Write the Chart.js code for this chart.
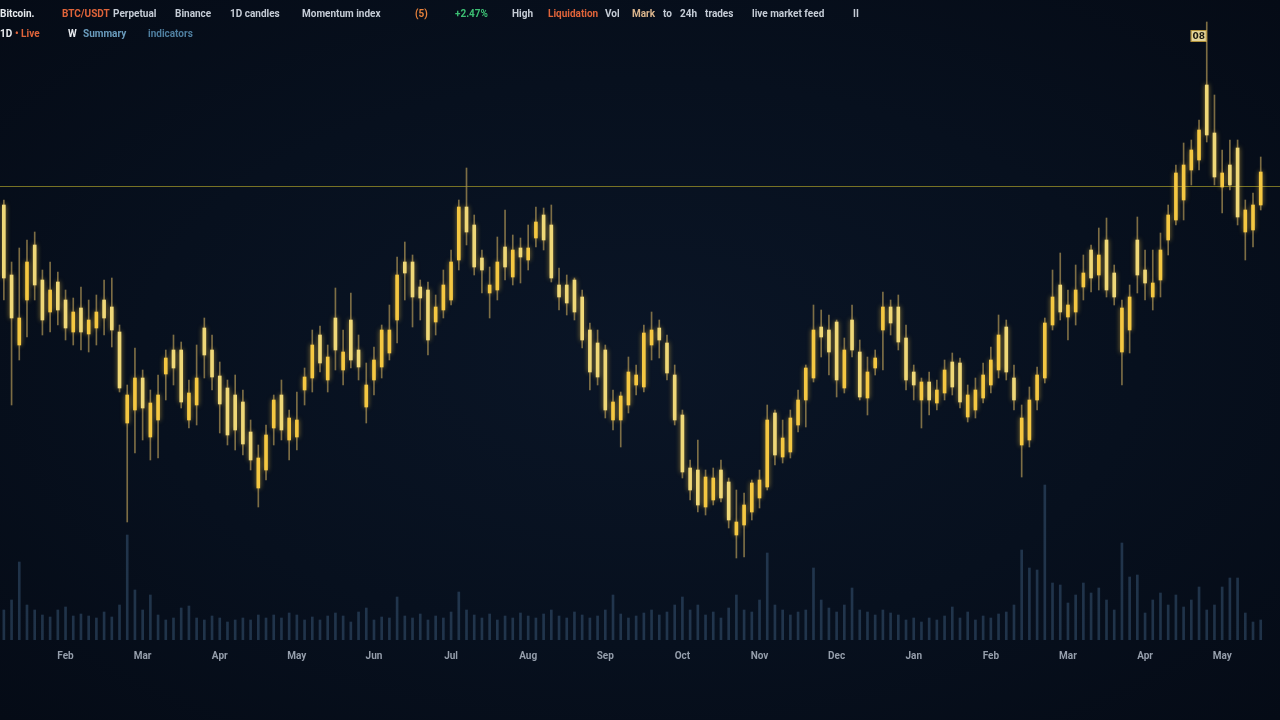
<!DOCTYPE html>
<html>
<head>
<meta charset="utf-8">
<script src="https://cdn.jsdelivr.net/npm/chart.js@4.4.1/dist/chart.umd.min.js"></script>
<style>
html,body{margin:0;padding:0;width:1280px;height:720px;overflow:hidden;background:#060d19;}
#wrap{position:relative;width:1280px;height:720px;background:radial-gradient(ellipse at 50% 50%, #0a1526 0%, #07101e 55%, #050b16 100%);}
#c{position:absolute;left:0;top:0;}
.h{position:absolute;font-family:Roboto,"DejaVu Sans",sans-serif;font-size:10px;font-weight:700;white-space:nowrap;line-height:12px;}
</style>
</head>
<body>
<div id="wrap">
<canvas id="c" width="1280" height="720"></canvas>
<div class="h" style="left:0;top:8px;color:#e8ebef">Bitcoin.</div>
<div class="h" style="left:62px;top:8px;color:#e0643a">BTC/USDT</div>
<div class="h" style="left:113px;top:8px;color:#c5ccd6">Perpetual</div>
<div class="h" style="left:175px;top:8px;color:#c5ccd6">Binance</div>
<div class="h" style="left:230px;top:8px;color:#c5ccd6">1D candles</div>
<div class="h" style="left:302px;top:8px;color:#c5ccd6">Momentum index</div>
<div class="h" style="left:415px;top:8px;color:#e8823c">(5)</div>
<div class="h" style="left:455px;top:8px;color:#3cbf73">+2.47%</div>
<div class="h" style="left:512px;top:8px;color:#c5ccd6">High</div>
<div class="h" style="left:548px;top:8px;color:#e0643a">Liquidation</div>
<div class="h" style="left:605px;top:8px;color:#c5ccd6">Vol</div>
<div class="h" style="left:632px;top:8px;color:#d9b48c">Mark</div>
<div class="h" style="left:663px;top:8px;color:#c5ccd6">to</div>
<div class="h" style="left:680px;top:8px;color:#c5ccd6">24h</div>
<div class="h" style="left:705px;top:8px;color:#c5ccd6">trades</div>
<div class="h" style="left:752px;top:8px;color:#c5ccd6">live market feed</div>
<div class="h" style="left:853px;top:8px;color:#c5ccd6">II</div>
<div class="h" style="left:0;top:28px;color:#e8ebef">1D</div>
<div class="h" style="left:15px;top:28px;color:#e0643a">• Live</div>
<div class="h" style="left:68px;top:28px;color:#e8ebef">W</div>
<div class="h" style="left:83px;top:28px;color:#6a9cbd">Summary</div>
<div class="h" style="left:148px;top:28px;color:#4f7fa0">indicators</div>
</div>
<script>
// ---- data (price units, daily candles) ----
const slotCount = 166;
const tickLabels = ["Feb","Mar","Apr","May","Jun","Jul","Aug","Sep","Oct","Nov","Dec","Jan","Feb","Mar","Apr","May"];
const firstTickIndex = 8;
const tickEvery = 10;
const resistanceLevel = 534;
const peakLabel = "08";

const opens = [
515,445,375,420,475,440,408,438,420,388,
412,386,392,420,413,388,297,310,342,283,
300,346,370,370,300,315,392,370,344,332,
325,318,288,232,250,292,325,280,283,330,
342,385,340,402,350,400,370,313,340,353,
367,400,458,458,433,430,398,410,420,460,
513,495,462,427,430,473,443,472,460,482,
505,495,435,435,440,423,390,377,370,300,
300,315,335,333,375,392,377,345,305,252,
250,213,220,250,238,185,195,208,222,233,
307,263,268,295,320,342,393,390,398,332,
400,368,322,352,390,413,413,382,348,320,
338,317,327,358,357,303,310,322,335,350,
393,342,275,280,320,342,395,435,403,408,
433,470,445,480,447,368,390,480,450,423,
440,480,500,520,550,560,635,587,533,555,
572,488,490,515];
const closes = [
442,402,402,458,435,400,430,410,392,408,
388,400,408,402,390,332,325,342,312,317,
325,362,352,318,327,342,365,343,316,285,
290,276,260,262,285,320,290,302,300,343,
375,357,363,370,368,360,353,335,360,390,
390,445,447,423,422,380,413,435,458,513,
488,453,450,435,458,453,470,463,472,498,
480,442,423,417,408,380,348,343,310,318,
324,348,345,387,390,380,347,300,248,230,
215,243,242,222,200,198,215,237,240,300,
265,282,302,320,352,390,383,368,340,370,
370,323,348,362,413,397,378,340,335,338,
320,330,350,333,318,325,330,345,360,385,
348,320,302,320,345,397,423,408,415,430,
447,442,465,430,423,412,423,445,437,437,
470,505,547,555,570,590,585,543,547,535,
503,510,515,548];
const highs = [
520,458,472,480,488,450,458,448,430,422,
433,420,425,440,442,395,335,372,350,330,
345,370,385,378,340,375,402,385,358,340,
345,330,300,275,295,325,340,310,328,352,
390,394,375,432,390,427,385,357,373,395,
415,463,478,465,440,438,425,450,470,520,
552,505,470,453,483,510,485,482,495,513,
512,515,452,445,442,430,397,390,375,330,
328,363,355,395,408,400,385,355,310,260,
280,250,252,260,242,230,227,240,250,315,
310,300,310,330,355,415,410,405,400,382,
415,380,363,370,428,420,425,395,355,342,
348,340,360,367,362,335,342,357,373,405,
400,355,315,333,353,402,450,467,430,455,
465,475,492,502,455,420,435,503,470,470,
487,515,555,577,580,600,698,625,570,580,
580,520,527,563];
const lows = [
420,315,360,383,420,385,388,395,380,375,
370,368,375,385,373,328,198,267,280,260,
262,320,335,312,292,295,342,330,287,275,
270,265,250,213,240,275,280,260,270,315,
328,348,328,350,335,352,340,297,325,342,
360,377,420,393,400,365,385,402,415,450,
475,445,427,402,420,440,435,437,450,473,
470,438,410,405,400,372,330,335,302,290,
273,307,325,328,360,362,340,295,242,220,
208,205,215,218,192,162,163,200,212,230,
255,257,262,288,293,338,363,345,323,327,
363,320,305,345,350,385,370,330,320,292,
305,310,320,325,312,298,302,317,327,342,
340,310,243,273,310,337,390,400,380,395,
420,428,430,423,415,335,367,427,420,410,
423,465,495,500,535,550,578,535,507,530,
495,460,473,510];
const volumes = [
30,40,78,35,30,25,23,30,33,24,
26,24,22,28,23,35,105,50,30,45,
25,20,22,32,34,22,20,24,22,18,
20,22,20,25,22,25,22,27,25,20,
23,20,24,27,24,18,28,32,20,23,
22,43,24,22,26,20,24,22,28,48,
30,25,22,26,20,24,22,27,24,22,
26,30,24,22,28,25,22,24,30,45,
26,22,24,27,30,25,28,35,43,30,
35,25,28,22,32,45,30,28,40,87,
35,30,25,28,30,72,40,32,28,35,
52,30,28,25,30,27,25,20,22,18,
22,20,24,33,22,28,20,24,22,26,
28,35,90,72,70,155,57,55,37,45,
57,47,52,40,30,97,63,65,27,40,
47,35,45,33,40,53,30,35,53,62,
62,27,18,20];

// ---- build chart structures ----
const categories = [];
for (let i = 0; i < slotCount; i++) categories.push('d' + (i + 1));
const wickData = lows.map((l, i) => [l, highs[i]]);
const bodyData = opens.map((o, i) => [o, closes[i]]);

const glowPlugin = {
  id: 'glow',
  beforeDatasetDraw(chart, args) {
    if (args.index === 0) {
      chart.ctx.save();
      chart.ctx.shadowColor = 'rgba(255,205,70,0.55)';
      chart.ctx.shadowBlur = 5;
    }
  },
  afterDatasetDraw(chart, args) {
    if (args.index === 0) chart.ctx.restore();
  }
};
const levelPlugin = {
  id: 'level',
  beforeDatasetsDraw(chart) {
    const ctx = chart.ctx, y = chart.scales.y.getPixelForValue(resistanceLevel);
    ctx.save();
    ctx.strokeStyle = 'rgba(125,120,38,0.95)';
    ctx.lineWidth = 1;
    ctx.beginPath();
    ctx.moveTo(0, Math.round(y) + 0.5);
    ctx.lineTo(chart.width, Math.round(y) + 0.5);
    ctx.stroke();
    ctx.restore();
  }
};
const peakPlugin = {
  id: 'peak',
  afterDatasetsDraw(chart) {
    let idx = 0;
    highs.forEach((h, i) => { if (h > highs[idx]) idx = i; });
    const ctx = chart.ctx;
    const x = chart.scales.x.getPixelForValue(idx) - 8;
    const y = chart.scales.y.getPixelForValue(highs[idx]) + 14;
    ctx.save();
    ctx.fillStyle = '#e3d49a';
    ctx.strokeStyle = '#b0913a';
    ctx.lineWidth = 1;
    ctx.fillRect(x - 8, y - 6, 16, 12);
    ctx.strokeRect(x - 7.5, y - 5.5, 15, 11);
    ctx.fillStyle = '#1b1a12';
    ctx.font = 'bold 9px "DejaVu Sans", sans-serif';
    ctx.textAlign = 'center';
    ctx.textBaseline = 'middle';
    ctx.fillText(peakLabel, x, y + 0.5);
    ctx.restore();
  }
};

new Chart(document.getElementById('c'), {
  type: 'bar',
  data: {
    labels: categories,
    datasets: [
      {
        label: 'Body',
        data: bodyData,
        yAxisID: 'y',
        grouped: false,
        order: 0,
        barThickness: 3,
        minBarLength: 1,
        backgroundColor: (c) => {
          const i = c.dataIndex;
          return closes[i] >= opens[i] ? '#f5c842' : '#efd878';
        },
        borderWidth: 0
      },
      {
        label: 'Wick',
        data: wickData,
        yAxisID: 'y',
        grouped: false,
        order: 1,
        barThickness: 1,
        backgroundColor: 'rgba(175,150,85,0.7)',
        borderWidth: 0
      },
      {
        label: 'Volume',
        data: volumes,
        yAxisID: 'yv',
        grouped: false,
        order: 2,
        barThickness: 2,
        backgroundColor: 'rgba(70,105,140,0.42)',
        borderWidth: 0
      }
    ]
  },
  options: {
    responsive: false,
    animation: false,
    events: [],
    layout: { padding: { left: 0, right: 0, top: 0, bottom: 58 } },
    plugins: { legend: { display: false }, tooltip: { enabled: false } },
    scales: {
      x: {
        type: 'category',
        grid: { display: true, drawOnChartArea: false, drawTicks: true, tickLength: 10, color: 'rgba(0,0,0,0)' },
        border: { display: false },
        ticks: {
          autoSkip: false,
          maxRotation: 0,
          padding: 0,
          color: '#959eab',
          font: { family: 'Roboto, "DejaVu Sans", sans-serif', size: 10, weight: 'bold' },
          callback: (v, i) => {
            const k = i - firstTickIndex;
            return (k >= 0 && k % tickEvery === 0 && tickLabels[k / tickEvery]) ? tickLabels[k / tickEvery] : '';
          }
        }
      },
      y: { display: false, min: 80, max: 720 },
      yv: { display: false, min: 0, max: 640 }
    }
  },
  plugins: [glowPlugin, levelPlugin, peakPlugin]
});
</script>
</body>
</html>
